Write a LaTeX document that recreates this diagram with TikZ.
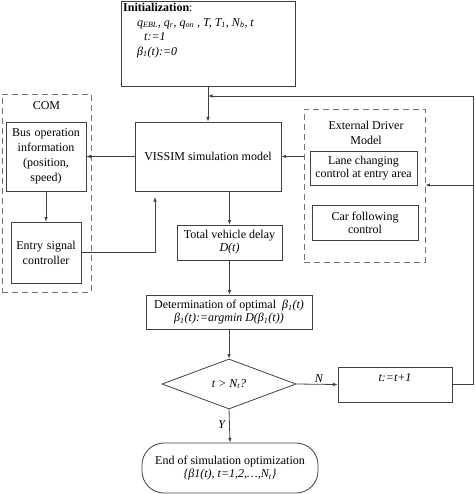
\documentclass[tikz,border=0pt]{standalone}
\usepackage{fontspec}
\setmainfont{Liberation Serif}
\usetikzlibrary{arrows.meta,shapes.geometric}
\newcommand\sbs[1]{\textsubscript{\itshape #1}}
\begin{document}
\begin{tikzpicture}[x=1pt,y=-1pt,
  font=\fontsize{12}{15}\selectfont,
  ln/.style={draw=black!75,line width=0.8pt},
  arr/.style={ln,-{Latex[length=4.5pt,width=3.5pt]}},
  box/.style={ln,rectangle,inner sep=1pt,align=center,text=black},
  dbox/.style={draw=black!55,line width=0.9pt,dash pattern=on 6pt off 4pt,rectangle,inner sep=0pt}]
\useasboundingbox (0,0) rectangle (474,494);
% Initialization
\node[box,minimum width=174,minimum height=85] (init) at (208,43.5) {};
\node[anchor=north west,align=left,inner sep=0pt] (inittext) at (123,3)
 {\textbf{Initialization}:\\[-0.5pt]
  \hspace*{14pt}\textit{q\sbs{EBL}, q\sbs{r}, q\sbs{on} , T, T\sbs{1}, N\sbs{b}, t}\\[-0.5pt]
  \hspace*{21pt}\textit{t:=1}\\[-0.5pt]
  \hspace*{14pt}\textit{β\sbs{1}(t):=0}};
% VISSIM
\node[box,minimum width=146,minimum height=69] (vissim) at (208,156.5) {VISSIM simulation model};
% COM
\node[dbox,minimum width=89,minimum height=198] (com) at (46.5,193) {};
\node (comt) at (46.5,106) {COM};
\node[box,minimum width=80,minimum height=69,text width=78] (bus) at (46,156.5) {Bus operation information (position, speed)};
\node[box,minimum width=70,minimum height=61,text width=68] (entry) at (46,252.5) {Entry signal controller};
% External driver model
\node[dbox,minimum width=121,minimum height=153] (ext) at (364.5,185.5) {};
\node[align=center,inner sep=0pt] (extt) at (366,132.5) {External Driver\\Model};
\node[box,minimum width=107,minimum height=34] (lane) at (363.5,168) {Lane changing\\[-2pt]control at entry area};
\node[box,minimum width=106,minimum height=35] (car) at (365,222.5) {Car following\\[-2pt]control};
% Delay
\node[box,minimum width=105,minimum height=35] (total) at (229.5,242.5) {Total vehicle delay\\[-2pt]\textit{D(t)}};
\node[box,minimum width=166,minimum height=34] (det) at (229,312) {Determination of optimal\ \ \textit{β\sbs{1}(t)}\\[-2pt]\textit{β\sbs{1}(t):=argmin D(β\sbs{1}(t))}};
\node[ln,diamond,aspect=2.68,minimum width=134,minimum height=50,inner sep=0pt] (dec) at (229,384) {\textit{t > N\sbs{t}?}};
\node[box,minimum width=114,minimum height=35] (tbox) at (395,384.5) {};
\node (ttext) at (395,378) {\textit{t:=t+1}};
\node[box,rounded corners=22pt,minimum width=176,minimum height=50] (endb) at (230,468) {End of simulation optimization\\[-2pt]\textit{\{β1(t), t=1,2,…,N\sbs{t}\}}};
% connectors
\coordinate (j) at (208,96);
\coordinate (rtop) at (473,96);
\coordinate (rbot) at (473,384.5);
\coordinate (rmid) at (473,185);
\coordinate (vin) at (155,197);
\coordinate (ebend) at (155,252.5);
\draw[arr] (init.south) -- (vissim.north);
\draw[arr] (tbox.east) -- (rbot) -- (rtop) -- (j);
\draw[arr] (rmid) -- (ext.east |- rmid);
\draw[arr] (ext.west |- vissim.east) -- (vissim.east);
\draw[arr] (vissim.west) -- (bus.east);
\draw[arr] (bus.south) -- (entry.north);
\draw[arr] (entry.east) -- (ebend) -- (vin);
\draw[arr] (vissim.south -| total.north) -- (total.north);
\draw[arr] (total.south) -- (det.north -| total.south);
\draw[arr] (det.south) -- (dec.north);
\draw[arr] (dec.south) -- node[left,pos=0.45,inner sep=3pt] (ylab) {\textit{Y}} (endb.north);
\draw[arr] (dec.east) -- node[above,pos=0.55,inner sep=1pt] (nlab) {\textit{N}} (tbox.west);
\end{tikzpicture}
\end{document}
